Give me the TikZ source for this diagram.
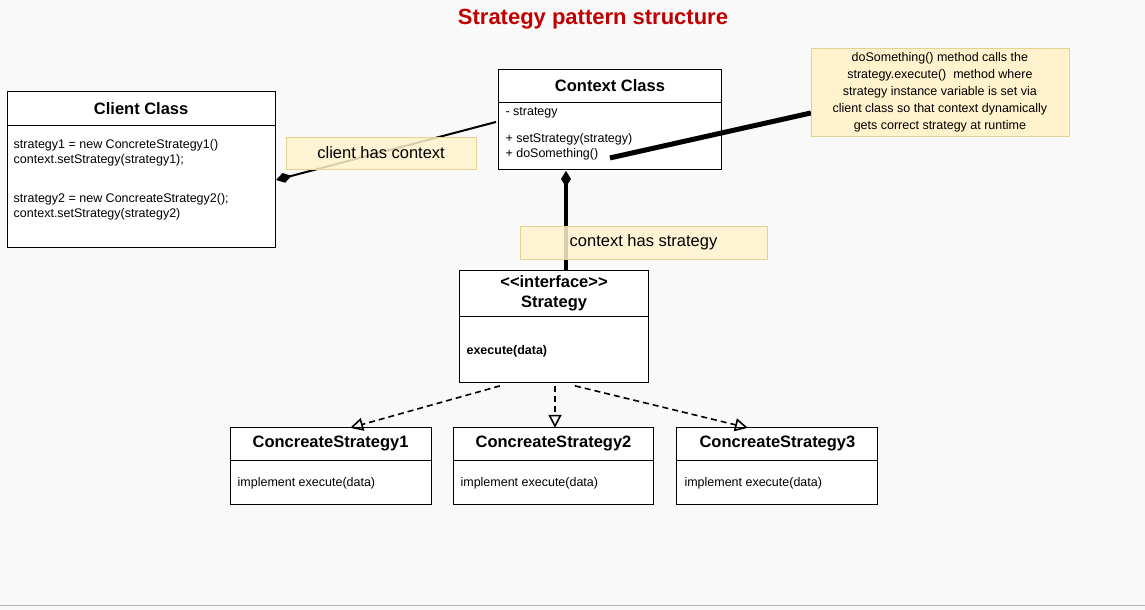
\documentclass[tikz,border=0pt]{standalone}
\usepackage{fontspec}
\setmainfont{Liberation Sans}
\usetikzlibrary{arrows.meta}
\definecolor{bg}{HTML}{F9F9F9}
\definecolor{notefill}{HTML}{FFF2CC}
\definecolor{notedraw}{HTML}{E6D28F}
\definecolor{titlered}{HTML}{C00000}
\begin{document}
\begin{tikzpicture}[x=1pt,y=-1pt,
  box/.style={draw=black,fill=white,line width=1pt},
  hdr/.style={font=\bfseries\fontsize{16.5}{20}\selectfont},
  body/.style={font=\fontsize{12.5}{15}\selectfont,align=left,anchor=north west},
  note/.style={fill=notefill,fill opacity=0.85,text opacity=1,draw=notedraw,line width=0.6pt},
  dia/.style={-{Diamond[length=16pt,width=10pt]}},
  real/.style={dashed,dash pattern=on 6pt off 4pt,line width=1.6pt,-{Triangle[open,length=13pt,width=13pt]}}]
\fill[bg] (0,0) rectangle (1145,610);
\draw[gray!60] (0,605) -- (1145,605);
\node[text=titlered,font=\bfseries\fontsize{22}{26}\selectfont] (title) at (593,19) {Strategy pattern structure};
% Client
\draw[box] (7,92) rectangle (275,248); \draw (7,125) -- (275,125);
\node[hdr] (clientt) at (141,108.5) {Client Class};
\node[body] (clientb) at (10,136) {strategy1 = new ConcreteStrategy1()\\context.setStrategy(strategy1);\\[24pt]strategy2 = new ConcreateStrategy2();\\context.setStrategy(strategy2)};
\coordinate (clientR) at (276,180);
% Context
\draw[box] (498,70) rectangle (722,170); \draw (498,102) -- (722,102);
\node[hdr] (ctxt) at (610,86) {Context Class};
\node[body] (ctxb) at (502,104) {- strategy\\[12pt]+ setStrategy(strategy)\\+ doSomething()};
\coordinate (ctxL) at (496,122);
\coordinate (ctxB) at (566,171);
\coordinate (dosome) at (610,158);
% Strategy
\draw[box] (459,271) rectangle (649,383); \draw (459,316) -- (649,316);
\node[hdr,align=center] (strt) at (554,293) {\mbox{<}\kern0pt\mbox{<}interface\mbox{>}\kern0pt\mbox{>}\\Strategy};
\node[body,font=\bfseries\fontsize{12.5}{15}\selectfont] (strb) at (463,342) {execute(data)};
\coordinate (strT) at (566,271);
% Concrete
\foreach \n/\x in {1/230,2/453,3/677}{
  \draw[box] (\x,428) rectangle (\x+201,505); \draw (\x,460) -- (\x+201,460);
  \node[hdr] (cs\n) at (\x+100.5,444) {ConcreateStrategy\n};
  \node[body] (csb\n) at (\x+4,474) {implement execute(data)};
}
% connectors
\draw[line width=2pt,dia] (ctxL) -- (clientR);
\draw[line width=3.5pt,dia] (strT) -- (ctxB);
\coordinate (noteL) at (811,113);
\draw[line width=5pt] (dosome) -- (noteL);
\coordinate (s1) at (500,386); \coordinate (s2) at (555,386); \coordinate (s3) at (575,386);
\coordinate (c1) at (350,428); \coordinate (c2) at (555,428); \coordinate (c3) at (748,428);
\draw[real] (s1) -- (c1);
\draw[real] (s2) -- (c2);
\draw[real] (s3) -- (c3);
% labels
\node[note,minimum width=190pt,minimum height=32pt,font=\fontsize{16.5}{20}\selectfont] (lbl1) at (381,153) {client has context};
\node[note,minimum width=247pt,minimum height=33pt,font=\fontsize{16.5}{20}\selectfont] (lbl2) at (643.5,242.5) {context has strategy};
\node[note,fill opacity=1,minimum width=258pt,minimum height=88pt,align=center,font=\fontsize{12.5}{17}\selectfont] (notebox) at (940,92) {doSomething() method calls the\\strategy.execute()\ \ method where\\strategy instance variable is set via\\client class so that context dynamically\\gets correct strategy at runtime};
\end{tikzpicture}
\end{document}
